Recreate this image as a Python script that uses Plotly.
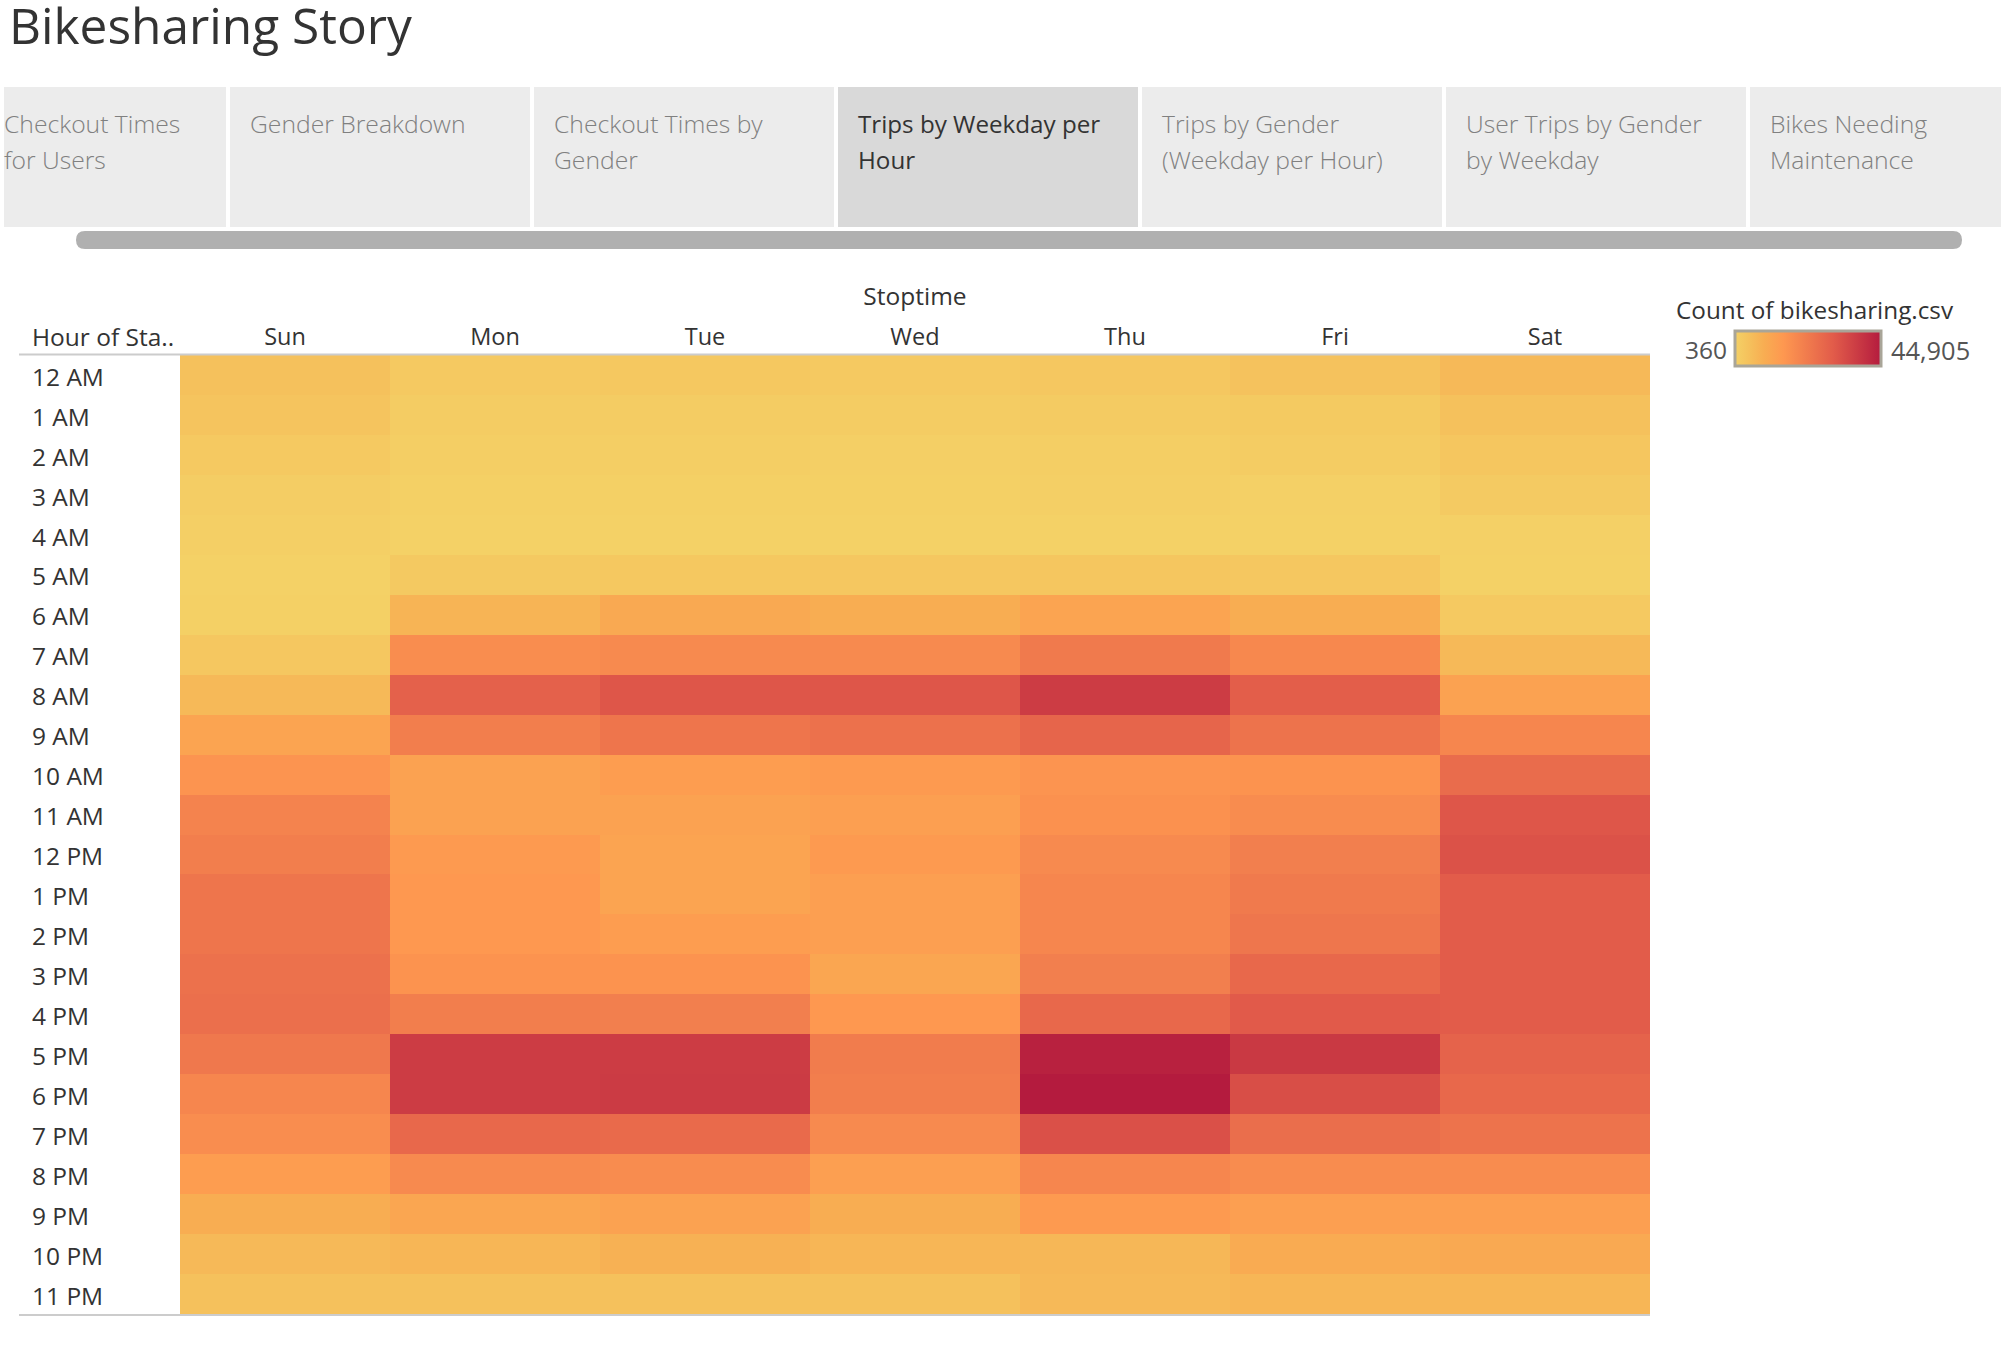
import plotly.graph_objects as go

W, H = 2001, 1368

hours = ['12 AM', '1 AM', '2 AM', '3 AM', '4 AM', '5 AM', '6 AM', '7 AM', '8 AM', '9 AM', '10 AM', '11 AM',
         '12 PM', '1 PM', '2 PM', '3 PM', '4 PM', '5 PM', '6 PM', '7 PM', '8 PM', '9 PM', '10 PM', '11 PM']
days = ['Sun', 'Mon', 'Tue', 'Wed', 'Thu', 'Fri', 'Sat']

# counts
sun = [4590, 3920, 2590, 1340, 850, 360, 670, 3030, 6370, 11720, 15950, 20410,
       21740, 23970, 23970, 24860, 25310, 23080, 19510, 17730, 13720, 9270, 6370, 4590]
mon = [2590, 1700, 1030, 670, 450, 2450, 7710, 17730, 28870, 21740, 12390, 12390,
       14390, 15060, 15060, 16400, 21740, 37330, 37330, 27090, 18620, 11270, 7260, 4590]
tue = [2710, 1700, 1030, 670, 450, 2770, 10380, 18620, 31540, 23970, 13720, 12390,
       11720, 11720, 13720, 16400, 21300, 37330, 37560, 26640, 18180, 12390, 8380, 4590]
wed = [2530, 1670, 850, 670, 450, 3030, 9270, 18620, 31540, 24860, 14390, 13050,
       14390, 13050, 13050, 11270, 15060, 22190, 21740, 18620, 13050, 9270, 7260, 4590]
thu = [2940, 1960, 1200, 760, 480, 3260, 11720, 22630, 37330, 27980, 15950, 16840,
       18620, 19510, 19510, 21300, 27090, 43570, 44905, 32880, 19510, 14390, 6820, 6370]
fri = [4240, 2280, 1700, 510, 480, 3030, 9270, 19070, 29760, 24410, 16400, 18180,
       21300, 22630, 23520, 27090, 30650, 38220, 33320, 25750, 18180, 13050, 9940, 7260]
sat = [6370, 4590, 3260, 2140, 510, 450, 2590, 6370, 12390, 19510, 26200, 31540,
       32430, 30200, 30200, 30200, 30200, 28420, 27090, 24410, 18180, 13050, 10380, 7260]

count_min = 360
count_max = 44905

tabs = [('Checkout Times', 'for Users'), ('Gender Breakdown', ''), ('Checkout Times by', 'Gender'),
        ('Trips by Weekday per', 'Hour'), ('Trips by Gender', '(Weekday per Hour)'),
        ('User Trips by Gender', 'by Weekday'), ('Bikes Needing', 'Maintenance')]
tab_edges = [(4, 226, 2), (230, 530, 248), (534, 834, 552), (838, 1138, 856),
             (1142, 1442, 1160), (1446, 1746, 1464), (1750, 2001, 1768)]
active_tab = 3

FONT = 'Open Sans'
DARK = '#333333'


def px(x):
    return x / W


def py(y):
    return 1 - y / H


def text(x, y, s, size, color=DARK, anchor='left', weight=400):
    return dict(x=px(x), y=py(y), xref='paper', yref='paper', text=s, showarrow=False,
                xanchor=anchor, yanchor='middle', align=anchor,
                font=dict(family=FONT, size=size, color=color, weight=weight))


z = [list(row) for row in zip(sun, mon, tue, wed, thu, fri, sat)]

fig = go.Figure(go.Heatmap(
    x=days, y=hours, z=z,
    zmin=count_min, zmax=count_max,
    colorscale=[[0, '#f4d166'], [0.095, '#f5c15c'], [0.2, '#f8ad52'], [0.33, '#fe9850'],
                [0.67, '#e25c4a'], [1, '#b41b3e']],
    colorbar=dict(orientation='h', x=px(1735), xanchor='left', y=py(331), yanchor='top',
                  lenmode='pixels', len=146, thickness=35, xpad=0, ypad=0,
                  outlinecolor='#a9a598', outlinewidth=3, borderwidth=0,
                  ticks='', showticklabels=False),
))

shapes = []
annotations = [text(7, 25.5, 'Bikesharing Story', 49.6)]

for i, (tab, edge) in enumerate(zip(tabs, tab_edges)):
    on = i == active_tab
    shapes.append(dict(type='rect', xref='paper', yref='paper', layer='below', line_width=0,
                       x0=px(edge[0] if i else 4), x1=px(edge[1]), y0=py(87), y1=py(227),
                       fillcolor='#d9d9d9' if on else '#ececec'))
    color = '#333333' if on else '#808080'
    weight = 400 if on else 300
    size = 24.2 if on else 24.7
    annotations.append(text(edge[2], 123, tab[0], size, color, weight=weight))
    if tab[1]:
        annotations.append(text(edge[2], 159.5, tab[1], size, color, weight=weight))

# scroll bar
x0, x1, y0, y1, r = 76, 1962, 231, 249, 9
shapes.append(dict(type='path', xref='paper', yref='paper', layer='below', line_width=0, fillcolor='#b0b0b0',
                   path=f'M {px(x0 + r)} {py(y0)} L {px(x1 - r)} {py(y0)} Q {px(x1)} {py(y0)} {px(x1)} {py(y0 + r)} '
                        f'Q {px(x1)} {py(y1)} {px(x1 - r)} {py(y1)} L {px(x0 + r)} {py(y1)} '
                        f'Q {px(x0)} {py(y1)} {px(x0)} {py(y0 + r)} Q {px(x0)} {py(y0)} {px(x0 + r)} {py(y0)} Z'))

# header and footer rules
shapes.append(dict(type='line', xref='paper', yref='paper', x0=px(19), x1=px(1650), y0=py(354.5), y1=py(354.5),
                   line=dict(color='#cccccc', width=2)))
shapes.append(dict(type='line', xref='paper', yref='paper', x0=px(19), x1=px(1650), y0=py(1315), y1=py(1315),
                   line=dict(color='#cccccc', width=2)))

annotations.append(text(30, 336, 'Hour of Sta..', 24.5))
for hour in hours:
    annotations.append(dict(x=px(30), y=hour, xref='paper', yref='y', text=hour, showarrow=False,
                            xanchor='left', yanchor='middle', yshift=-1.2,
                            font=dict(family=FONT, size=24.5, color=DARK)))

annotations.append(text(1674, 309, 'Count of bikesharing.csv', 24.3))
annotations.append(text(1729, 350, f'{count_min:,}', 24.5, '#555555', anchor='right'))
annotations.append(text(1889, 350, f'{count_max:,}', 25.4, '#555555'))

fig.update_layout(
    width=W, height=H,
    margin=dict(l=0, r=0, t=0, b=0, autoexpand=False),
    paper_bgcolor='white', plot_bgcolor='white',
    font=dict(family=FONT, color=DARK),
    shapes=shapes, annotations=annotations,
    xaxis=dict(domain=[px(180), px(1650)], side='top', showgrid=False, zeroline=False, ticks='',
               ticklabelstandoff=4,
               tickfont=dict(family=FONT, size=23.5, color=DARK),
               title=dict(text='Stoptime', font=dict(family=FONT, size=24.5, color=DARK), standoff=7)),
    yaxis=dict(domain=[py(1314), py(355)], autorange='reversed', showgrid=False, zeroline=False,
               showticklabels=False, ticks=''),
)

fig.write_html("out.html", config=dict(displayModeBar=False),
               post_script="document.body.style.margin='0';document.body.style.overflow='hidden';")
